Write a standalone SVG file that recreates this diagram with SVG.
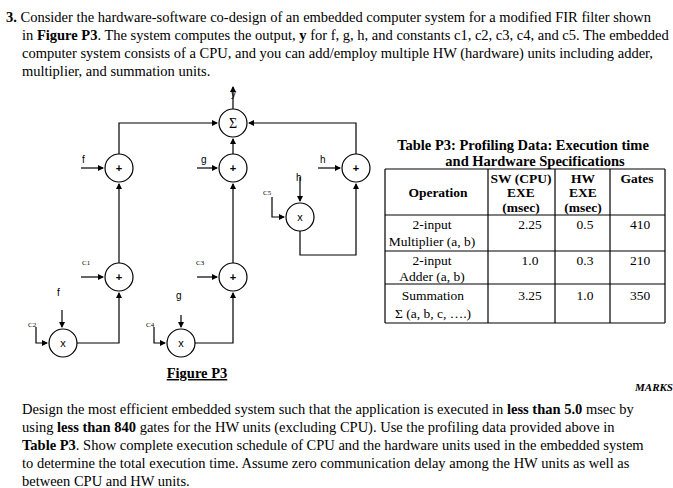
<svg xmlns="http://www.w3.org/2000/svg" width="673" height="488" viewBox="0 0 673 488">
<defs>
<marker id="ar" markerWidth="6" markerHeight="6" refX="5" refY="3" orient="auto" markerUnits="userSpaceOnUse"><path d="M0,0 L6,3 L0,6 z" fill="#000"/></marker>
<style>
.t{font-family:"Liberation Serif",serif;font-size:14.5px;fill:#000}
.b{font-weight:bold}
.n circle{fill:#fff;stroke:#000;stroke-width:1.2}
.n text{font-family:"Liberation Sans",sans-serif;font-size:11px;text-anchor:middle}
.l{font-family:"Liberation Sans",sans-serif;font-size:10px}
.s{font-family:"Liberation Serif",serif;font-size:7px}
#conn path{fill:none;stroke:#000;stroke-width:1.2;marker-end:url(#ar)}
.tb line{stroke:#000;stroke-width:1.2}
.c{text-anchor:middle}
</style>
</defs>
<rect width="673" height="488" fill="#fff"/>
<text class="t" x="6" y="22"><tspan class="b">3.</tspan> Consider the hardware-software co-design of an embedded computer system for a modified FIR filter shown</text>
<text class="t" x="22" y="40">in <tspan class="b">Figure P3</tspan>. The system computes the output, <tspan class="b">y</tspan> for f, g, h, and constants c1, c2, c3, c4, and c5. The embedded</text>
<text class="t" x="22" y="58">computer system consists of a CPU, and you can add/employ multiple HW (hardware) units including adder,</text>
<text class="t" x="22" y="76">multiplier, and summation units.</text>

<g id="conn">
<path d="M233,109 V87"/>
<path d="M119,154 V123 H217"/>
<path d="M356,154 V123 H249"/>
<path d="M233,154 V139"/>
<path d="M81,168 H103"/>
<path d="M197,168 H217"/>
<path d="M318,168 H340"/>
<path d="M119,263 V184"/>
<path d="M233,263 V184"/>
<path d="M81,277 H103"/>
<path d="M197,277 H217"/>
<path d="M77,343 H119 V293"/>
<path d="M195,343 H233 V293"/>
<path d="M300,231 V255 H356 V184"/>
<path d="M62,310 V327"/>
<path d="M181,315 V327"/>
<path d="M300,177 V201"/>
<path d="M36,327 V343 H47"/>
<path d="M154,327 V343 H165"/>
<path d="M272,197 V217 H284"/>
</g>
<g id="sum" class="n"><circle cx="233" cy="123" r="14"/><text x="233" y="128" style="font-family:'Liberation Serif',serif;font-size:14px">Σ</text></g>
<g id="addf" class="n"><circle cx="119" cy="168" r="14"/><text x="119" y="172" class="b">+</text></g>
<g id="addg" class="n"><circle cx="233" cy="168" r="14"/><text x="233" y="172" class="b">+</text></g>
<g id="addh" class="n"><circle cx="356" cy="168" r="14"/><text x="356" y="172" class="b">+</text></g>
<g id="addc1" class="n"><circle cx="119" cy="277" r="14"/><text x="119" y="281" class="b">+</text></g>
<g id="addc3" class="n"><circle cx="233" cy="277" r="14"/><text x="233" y="281" class="b">+</text></g>
<g id="mul1" class="n"><circle cx="63" cy="343" r="14"/><text x="63" y="347">x</text></g>
<g id="mul2" class="n"><circle cx="181" cy="343" r="14"/><text x="181" y="347">x</text></g>
<g id="mul3" class="n"><circle cx="300" cy="217" r="14"/><text x="300" y="221">x</text></g>

<g id="labels">
<text class="l" x="231" y="97">y</text>
<text class="l" x="82" y="163">f</text>
<text class="l" x="201" y="163">g</text>
<text class="l" x="320" y="163">h</text>
<text class="s" x="82" y="265">C1</text>
<text class="s" x="196" y="265">C3</text>
<text class="l" x="57" y="296">f</text>
<text class="l" x="176" y="299">g</text>
<text class="s" x="28" y="327">C2</text>
<text class="s" x="146" y="327">C4</text>
<text class="s" x="263" y="195">C5</text>
<text class="l" x="296" y="181">h</text>
</g>
<text class="t b c" x="197" y="378" text-decoration="underline">Figure P3</text>

<g id="table">
<text class="t b c" x="523" y="150">Table P3: Profiling Data: Execution time</text>
<text class="t b c" x="535" y="166">and Hardware Specifications</text>
<g class="tb">
<line x1="385" y1="169" x2="665" y2="169"/>
<line x1="385" y1="215" x2="665" y2="215"/>
<line x1="385" y1="251" x2="665" y2="251"/>
<line x1="385" y1="284" x2="665" y2="284"/>
<line x1="385" y1="323" x2="665" y2="323"/>
<line x1="385" y1="169" x2="385" y2="323"/>
<line x1="488" y1="169" x2="488" y2="323"/>
<line x1="555" y1="169" x2="555" y2="323"/>
<line x1="610" y1="169" x2="610" y2="323"/>
<line x1="665" y1="169" x2="665" y2="323"/>
</g>
<g style="font-family:'Liberation Serif',serif;font-size:13.5px">
<text class="b c" x="438" y="197">Operation</text>
<text class="b c" x="521" y="183">SW (CPU)</text>
<text class="b c" x="521" y="197">EXE</text>
<text class="b c" x="521" y="212">(msec)</text>
<text class="b c" x="583" y="183">HW</text>
<text class="b c" x="583" y="197">EXE</text>
<text class="b c" x="583" y="212">(msec)</text>
<text class="b c" x="637" y="183">Gates</text>
<text class="c" x="432" y="229">2-input</text>
<text class="c" x="432" y="246">Multiplier (a, b)</text>
<text class="c" x="432" y="265">2-input</text>
<text class="c" x="432" y="281">Adder (a, b)</text>
<text class="c" x="433" y="300">Summation</text>
<text class="c" x="433" y="318">Σ (a, b, c, ….)</text>
<text class="c" x="530" y="229">2.25</text>
<text class="c" x="530" y="265">1.0</text>
<text class="c" x="530" y="300">3.25</text>
<text class="c" x="585" y="229">0.5</text>
<text class="c" x="585" y="265">0.3</text>
<text class="c" x="585" y="300">1.0</text>
<text class="c" x="640" y="229">410</text>
<text class="c" x="640" y="265">210</text>
<text class="c" x="640" y="300">350</text>
</g>
</g>

<text x="673" y="391" text-anchor="end" style="font-family:'Liberation Serif',serif;font-size:11px;font-weight:bold;font-style:italic">MARKS</text>
<text class="t" x="22" y="414">Design the most efficient embedded system such that the application is executed in <tspan class="b">less than 5.0</tspan> msec by</text>
<text class="t" x="22" y="432">using <tspan class="b">less than 840</tspan> gates for the HW units (excluding CPU). Use the profiling data provided above in</text>
<text class="t" x="22" y="450"><tspan class="b">Table P3</tspan>. Show complete execution schedule of CPU and the hardware units used in the embedded system</text>
<text class="t" x="22" y="468">to determine the total execution time. Assume zero communication delay among the HW units as well as</text>
<text class="t" x="22" y="486">between CPU and HW units.</text>
</svg>
